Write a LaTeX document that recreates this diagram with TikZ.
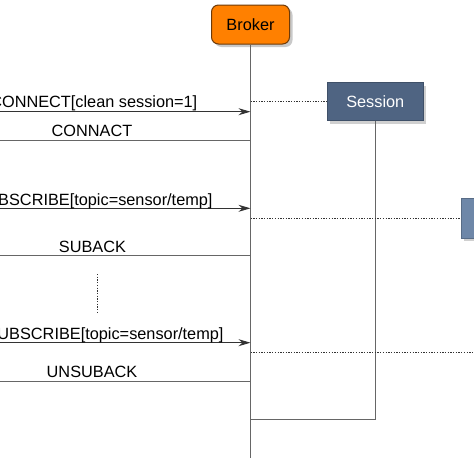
\documentclass[tikz,border=0pt]{standalone}
\usepackage{fontspec}
\setmainfont{Liberation Sans}
\usetikzlibrary{arrows.meta,shadows}
\definecolor{brokerfill}{HTML}{FF8000}
\definecolor{brokerline}{HTML}{6E3A08}
\definecolor{sessfill}{HTML}{4F6482}
\definecolor{subfill}{HTML}{6E87A8}
\definecolor{lifeline}{HTML}{666666}
\definecolor{msgline}{HTML}{333333}
\begin{document}
\begin{tikzpicture}[x=1pt,y=-1pt,
  font=\fontsize{16.3}{19}\selectfont,
  actor/.style={draw=brokerline,fill=brokerfill,rounded corners=7pt,minimum width=78pt,minimum height=39pt,inner sep=0pt,line width=1pt,
    drop shadow={shadow xshift=3pt,shadow yshift=-3pt,fill=black!35,opacity=0.6}},
  entity/.style={draw=sessfill!80!black,fill=sessfill,text=white,minimum width=96pt,minimum height=38pt,inner sep=0pt,line width=0.6pt,
    drop shadow={shadow xshift=3pt,shadow yshift=-3pt,fill=black!30,opacity=0.6}},
  life/.style={draw=lifeline,line width=1.3pt},
  msg/.style={draw=msgline,line width=1.2pt,-{Stealth[length=12pt,width=7pt]}},
  reply/.style={draw=lifeline,line width=1.3pt},
  dots/.style={draw=black!80,line width=1.2pt,dash pattern=on 1.3pt off 1.4pt},
  lbl/.style={inner sep=0pt,anchor=base east},
  rlbl/.style={fill=white,inner xsep=3pt,inner ysep=3pt,anchor=base}]
\useasboundingbox (0,0) rectangle (474,474);
\clip (0,0) rectangle (474,474);
\fill[white] (0,0) rectangle (474,474);
% actors
\node[actor] (broker) at (250.5,24.5) {Broker};
\node[entity] (session) at (375.3,101.7) {Session};
\node[draw=subfill!80!black,fill=subfill,minimum width=40pt,minimum height=40pt,inner sep=0pt,
  drop shadow={shadow xshift=3pt,shadow yshift=-3pt,fill=black!30,opacity=0.6}] (subs) at (481,218.3) {};
% lifelines
\coordinate (bEnd) at (250.5,458);
\coordinate (sEnd) at (375.3,419.3);
\coordinate (sJoin) at (250.5,419.3);
\draw[life] (broker.south) -- (bEnd);
\draw[life] (session.south) -- (sEnd) -- (sJoin);
% left free ends
\coordinate (c1) at (-5,111.7);
\coordinate (b1) at (250.5,111.7);
\coordinate (c2) at (-5,140.3);
\coordinate (b2) at (250.5,140.3);
\coordinate (c3) at (-5,208.3);
\coordinate (b3) at (250.5,208.3);
\coordinate (c4) at (-5,255.7);
\coordinate (b4) at (250.5,255.7);
\coordinate (c5) at (-5,342.7);
\coordinate (b5) at (250.5,342.7);
\coordinate (c6) at (-5,381.3);
\coordinate (b6) at (250.5,381.3);
% messages
\draw[msg] (c1) -- (b1);
\node[lbl] (t1) at (197.5,107.3) {CONNECT[clean session=1]};
\draw[reply] (b2) -- (c2);
\node[rlbl] (t2) at (92,136.5) {CONNACT};
\draw[msg] (c3) -- (b3);
\node[lbl] (t3) at (212.7,205.5) {SUBSCRIBE[topic=sensor/temp]};
\draw[reply] (b4) -- (c4);
\node[rlbl] (t4) at (92.5,252.3) {SUBACK};
\draw[msg] (c5) -- (b5);
\node[lbl] (t5) at (223.7,339.8) {UNSUBSCRIBE[topic=sensor/temp]};
\draw[reply] (b6) -- (c6);
\node[rlbl] (t6) at (92,377.3) {UNSUBACK};
% dotted links
\coordinate (d1) at (250.5,101.7);
\draw[dots] (d1) -- (session.west);
\coordinate (d2) at (250.5,218.3);
\draw[dots] (d2) -- (subs.west);
\coordinate (d3) at (250.5,352.3);
\coordinate (d3e) at (474,352.3);
\draw[dots] (d3) -- (d3e);
\coordinate (v1) at (97.3,274);
\coordinate (v2) at (97.3,314);
\draw[dots] (v1) -- (v2);
\end{tikzpicture}
\end{document}
